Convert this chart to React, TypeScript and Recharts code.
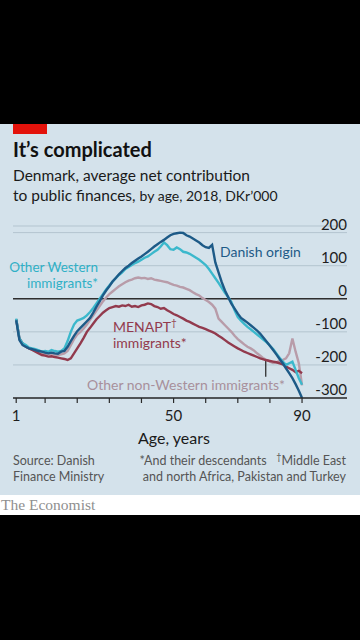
import React from "react";
import { LineChart, Line, XAxis, YAxis, CartesianGrid, ReferenceLine } from "recharts";

const ages: number[] = Array.from({ length: 90 }, (_, i) => i + 1);

const danishOrigin: number[] = [
  -65, -125, -140, -145, -150, -152, -155, -158, -160, -163,
  -165, -163, -165, -166, -160, -158, -145, -128, -112, -98,
  -88, -78, -68, -58, -42, -24, -8, 10, 25, 38,
  52, 63, 74, 84, 93, 100, 108, 115, 122, 128,
  135, 142, 150, 158, 165, 172, 178, 185, 192, 196,
  198, 200, 199, 192, 188, 182, 176, 170, 162, 156,
  154, 163, 110, 80, 50, 25, 5, -15, -30, -45,
  -58, -65, -72, -80, -88, -96, -106, -118, -130, -142,
  -155, -168, -182, -195, -210, -225, -240, -258, -278, -300,
];

const otherWestern: number[] = [
  -60, -120, -135, -140, -148, -150, -152, -156, -160, -158,
  -160, -155, -158, -160, -158, -150, -128, -100, -78, -66,
  -62, -58, -50, -40, -28, -14, 0, 14, 28, 40,
  52, 62, 72, 80, 90, 96, 102, 108, 112, 118,
  124, 128, 135, 142, 148, 158, 170, 162, 150, 148,
  155, 150, 142, 140, 136, 130, 124, 118, 110, 102,
  90, 76, 62, 48, 33, 18, 5, -10, -35, -55,
  -66, -76, -85, -92, -100, -108, -116, -124, -132, -142,
  -152, -165, -178, -190, -200, -195, -190, -215, -240, -260,
];

const menapt: number[] = [
  -62, -120, -135, -145, -150, -155, -160, -165, -170, -172,
  -175, -174, -176, -178, -180, -182, -185, -180, -165, -150,
  -135, -118, -100, -88, -75, -62, -52, -42, -35, -28,
  -25, -22, -24, -20, -22, -18, -24, -22, -25, -20,
  -18, -14, -16, -22, -25, -30, -28, -35, -40, -46,
  -50, -55, -60, -66, -70, -75, -80, -85, -88, -92,
  -96, -100, -105, -112, -118, -125, -132, -138, -144, -150,
  -155, -160, -164, -168, -172, -176, -180, -183, -186, -188,
  -190, -192, -195, -198, -205, -210, -215, -222, -218, -225,
];

const otherNonWestern: number[] = [
  -62, -122, -138, -145, -150, -154, -158, -162, -165, -166,
  -168, -166, -168, -170, -168, -165, -158, -140, -122, -108,
  -100, -90, -78, -64, -50, -36, -22, -8, 4, 14,
  22, 30, 38, 44, 50, 55, 58, 62, 64, 62,
  63, 60, 62, 58, 56, 54, 52, 50, 46, 42,
  40, 36, 34, 30, 26, 20, 14, 10, 2, -4,
  -10, -18, -30, -60, -70, -80, -90, -100, -112, -122,
  -130, -138, -145, -150, -156, -165, -172, -180, -185, -190,
  -194, -192, -188, -185, -180, -165, -120, -160, -195, -262,
];

const yTicks: number[] = [-300, -200, -100, 0, 100, 200];
const xTicks: number[] = [1, 10, 20, 30, 40, 50, 60, 70, 80, 90];
const xLabels: number[] = [1, 50, 90];

const data = ages.map((age, i) => ({
  age,
  danish: danishOrigin[i],
  western: otherWestern[i],
  menapt: menapt[i],
  nonWestern: otherNonWestern[i],
}));

const FONT = "Lato, 'Noto Sans', sans-serif";
const C_DANISH = "#1d5a87";
const C_WEST = "#3bb8cc";
const C_MENAPT = "#923a4d";
const C_NONWEST = "#b89ca9";

const renderYTick = (p: any) => (
  <text key={`yt-${p.payload.value}`} x={p.x} y={p.y - 3} textAnchor="end" fill="#1e1e1e" fontSize={15} fontFamily={FONT}>
    {p.payload.value}
  </text>
);

export default function App() {
  const abs = (o: React.CSSProperties): React.CSSProperties => ({ position: "absolute", ...o });
  return (
    <div style={{ position: "absolute", left: 0, top: 0, width: 360, height: 640, background: "#000", overflow: "hidden", fontFamily: FONT }}>
      <div style={abs({ left: 0, top: 124, width: 360, height: 371, background: "#d4e2eb" })} />
      <div style={abs({ left: 0, top: 495, width: 360, height: 20, background: "#fff" })} />
      <div style={abs({ left: 13, top: 124, width: 34, height: 10, background: "#e3120b" })} />
      <div style={abs({ left: 13, top: 139, fontSize: 20, lineHeight: "20px", fontWeight: 700, color: "#111", whiteSpace: "nowrap" })}>
        It’s complicated
      </div>
      <div style={abs({ left: 13, top: 165, fontSize: 15.5, lineHeight: "20px", color: "#1a1a1a", whiteSpace: "nowrap" })}>
        Denmark, average net contribution
        <br />
        to public finances, <span style={{ fontSize: 14 }}>by age, 2018, DKr’000</span>
      </div>

      <div style={abs({ left: 0, top: 0 })}>
        <LineChart width={360} height={440} data={data} margin={{ top: 226, right: 12, left: 13, bottom: 12 }}>
          <CartesianGrid vertical={false} stroke="#b3c4cf" strokeWidth={1} />
          <XAxis
            dataKey="age"
            type="number"
            domain={[0, 104]}
            ticks={xTicks}
            interval={0}
            height={30}
            tickSize={5}
            tickMargin={7}
            axisLine={{ stroke: "#2a2a2a", strokeWidth: 1.5 }}
            tickLine={{ stroke: "#2a2a2a", strokeWidth: 1.2 }}
            tick={{ fill: "#1e1e1e", fontSize: 15, fontFamily: FONT }}
            tickFormatter={(v: number) => (xLabels.includes(v) ? String(v) : "")}
          />
          <YAxis
            orientation="right"
            domain={[-300, 220]}
            ticks={yTicks}
            interval={0}
            width={1}
            tickSize={0}
            tickMargin={0}
            axisLine={false}
            tickLine={false}
            tick={renderYTick}
            allowDataOverflow
          />
          <ReferenceLine y={0} stroke="#2e2e2e" strokeWidth={1.4} />
          <ReferenceLine
            segment={[{ x: 78.7, y: -186 }, { x: 78.7, y: -236 }]}
            stroke="#222"
            strokeWidth={1.2}
          />
          <Line dataKey="nonWestern" stroke={C_NONWEST} strokeWidth={2.4} dot={false} isAnimationActive={false} />
          <Line dataKey="menapt" stroke={C_MENAPT} strokeWidth={2.4} dot={false} isAnimationActive={false} />
          <Line dataKey="western" stroke={C_WEST} strokeWidth={2.4} dot={false} isAnimationActive={false} />
          <Line dataKey="danish" stroke={C_DANISH} strokeWidth={2.4} dot={false} isAnimationActive={false} />
        </LineChart>
      </div>

      <div style={abs({ right: 262, top: 260, fontSize: 13.5, lineHeight: "15.5px", color: "#2fb0c6", textAlign: "right", whiteSpace: "nowrap" })}>
        Other Western
        <br />
        immigrants*
      </div>
      <div style={abs({ left: 220, top: 244, fontSize: 14, lineHeight: "16px", color: C_DANISH, whiteSpace: "nowrap" })}>
        Danish origin
      </div>
      <div style={abs({ left: 113, top: 319, fontSize: 14, lineHeight: "16px", color: C_MENAPT, whiteSpace: "nowrap" })}>
        MENAPT<sup style={{ fontSize: 10, lineHeight: 0 }}>†</sup>
        <br />
        immigrants*
      </div>
      <div style={abs({ left: 87, top: 377, fontSize: 14, lineHeight: "16px", color: "#a8909b", whiteSpace: "nowrap" })}>
        Other non-Western immigrants*
      </div>
      <div style={abs({ left: 0, width: 348, top: 429, fontSize: 16, lineHeight: "18px", color: "#1a1a1a", textAlign: "center" })}>
        Age, years
      </div>
      <div style={abs({ left: 13, top: 453, fontSize: 12.5, lineHeight: "16px", color: "#555", whiteSpace: "nowrap" })}>
        Source: Danish
        <br />
        Finance Ministry
      </div>
      <div style={abs({ right: 14, top: 453, fontSize: 12.5, lineHeight: "16px", color: "#555", textAlign: "right", whiteSpace: "nowrap" })}>
        *And their descendants&nbsp;&nbsp;&nbsp;<sup style={{ fontSize: 9, lineHeight: 0 }}>†</sup>Middle East
        <br />
        and north Africa, Pakistan and Turkey
      </div>
      <div style={abs({ left: 1, top: 496, fontSize: 15.5, lineHeight: "18px", color: "#8f8f8f", fontFamily: "'Liberation Serif', 'DejaVu Serif', serif", whiteSpace: "nowrap" })}>
        The Economist
      </div>
    </div>
  );
}
